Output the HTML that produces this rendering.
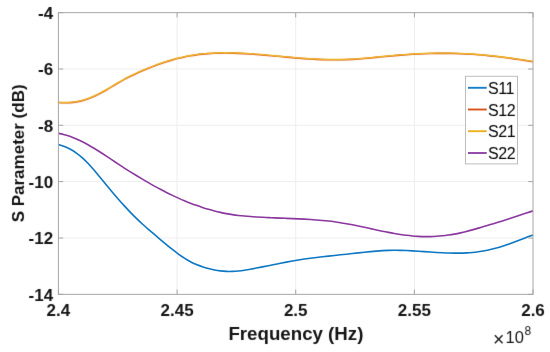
<!DOCTYPE html>
<html><head><meta charset="utf-8"><style>
html,body{margin:0;padding:0;background:#fff;}
body{width:550px;height:352px;overflow:hidden;}
svg{display:block;}
text{font-family:"Liberation Sans",Arial,sans-serif;}
</style></head><body>
<div id="w"><svg width="550" height="352" viewBox="0 0 550 352">
<defs><filter id="b" x="0" y="0" width="550" height="352" filterUnits="userSpaceOnUse" color-interpolation-filters="sRGB"><feConvolveMatrix order="3" kernelMatrix="0 1 0 1 8 1 0 1 0" divisor="12" edgeMode="duplicate"/></filter><filter id="b2" x="0" y="0" width="550" height="352" filterUnits="userSpaceOnUse" color-interpolation-filters="sRGB"><feConvolveMatrix order="3" kernelMatrix="0 1 0 1 8 1 0 1 0" divisor="12" edgeMode="none"/></filter></defs>
<rect width="550" height="352" fill="#fff"/>
<g stroke="#eeeeee" stroke-width="1" fill="none"><line x1="177.1" y1="12.7" x2="177.1" y2="294.3"/><line x1="295.7" y1="12.7" x2="295.7" y2="294.3"/><line x1="414.4" y1="12.7" x2="414.4" y2="294.3"/><line x1="58.4" y1="69.0" x2="533.0" y2="69.0"/><line x1="58.4" y1="125.3" x2="533.0" y2="125.3"/><line x1="58.4" y1="181.6" x2="533.0" y2="181.6"/><line x1="58.4" y1="238.0" x2="533.0" y2="238.0"/></g>
<g fill="none" stroke-width="1.6" stroke-linejoin="round" stroke-linecap="butt">
<path stroke="#0d77c4" d="M58.40,144.47 C60.40,145.01 62.40,145.67 64.40,146.47 C66.40,147.27 68.40,148.21 70.40,149.30 C72.40,150.39 74.40,151.63 76.40,153.05 C78.40,154.46 80.40,156.05 82.40,157.82 C84.40,159.60 86.40,161.57 88.40,163.72 C90.40,165.87 92.40,168.17 94.40,170.54 C96.40,172.92 98.40,175.36 100.40,177.79 C102.40,180.21 104.40,182.64 106.40,185.04 C108.40,187.45 110.40,189.84 112.40,192.20 C114.40,194.56 116.40,196.89 118.40,199.18 C120.40,201.47 122.40,203.72 124.40,205.91 C126.40,208.11 128.40,210.25 130.40,212.32 C132.40,214.40 134.40,216.41 136.40,218.35 C138.40,220.28 140.40,222.15 142.40,223.97 C144.40,225.78 146.40,227.55 148.40,229.29 C150.40,231.03 152.40,232.74 154.40,234.44 C156.40,236.14 158.40,237.84 160.40,239.53 C162.40,241.23 164.40,242.92 166.40,244.58 C168.40,246.25 170.40,247.88 172.40,249.47 C174.40,251.05 176.40,252.59 178.40,254.05 C180.40,255.52 182.40,256.91 184.40,258.20 C186.40,259.50 188.40,260.69 190.40,261.76 C192.40,262.83 194.40,263.76 196.40,264.59 C198.40,265.41 200.40,266.13 202.40,266.78 C204.40,267.42 206.40,268.00 208.40,268.53 C210.40,269.05 212.40,269.52 214.40,269.92 C216.40,270.31 218.40,270.64 220.40,270.89 C222.40,271.14 224.40,271.32 226.40,271.41 C228.40,271.50 230.40,271.49 232.40,271.42 C234.40,271.34 236.40,271.19 238.40,270.98 C240.40,270.78 242.40,270.51 244.40,270.21 C246.40,269.91 248.40,269.57 250.40,269.21 C252.40,268.84 254.40,268.46 256.40,268.07 C258.40,267.68 260.40,267.29 262.40,266.89 C264.40,266.49 266.40,266.09 268.40,265.68 C270.40,265.28 272.40,264.88 274.40,264.48 C276.40,264.07 278.40,263.68 280.40,263.28 C282.40,262.89 284.40,262.50 286.40,262.13 C288.40,261.75 290.40,261.38 292.40,261.03 C294.40,260.67 296.40,260.33 298.40,260.00 C300.40,259.67 302.40,259.36 304.40,259.07 C306.40,258.77 308.40,258.49 310.40,258.22 C312.40,257.95 314.40,257.70 316.40,257.45 C318.40,257.21 320.40,256.97 322.40,256.74 C324.40,256.52 326.40,256.30 328.40,256.08 C330.40,255.86 332.40,255.65 334.40,255.44 C336.40,255.23 338.40,255.02 340.40,254.82 C342.40,254.61 344.40,254.40 346.40,254.19 C348.40,253.98 350.40,253.76 352.40,253.54 C354.40,253.32 356.40,253.10 358.40,252.88 C360.40,252.66 362.40,252.44 364.40,252.23 C366.40,252.02 368.40,251.81 370.40,251.62 C372.40,251.43 374.40,251.25 376.40,251.09 C378.40,250.93 380.40,250.79 382.40,250.67 C384.40,250.55 386.40,250.45 388.40,250.39 C390.40,250.32 392.40,250.28 394.40,250.28 C396.40,250.27 398.40,250.29 400.40,250.34 C402.40,250.38 404.40,250.45 406.40,250.54 C408.40,250.62 410.40,250.73 412.40,250.84 C414.40,250.96 416.40,251.08 418.40,251.22 C420.40,251.35 422.40,251.49 424.40,251.64 C426.40,251.78 428.40,251.92 430.40,252.06 C432.40,252.20 434.40,252.33 436.40,252.46 C438.40,252.58 440.40,252.70 442.40,252.80 C444.40,252.89 446.40,252.98 448.40,253.04 C450.40,253.10 452.40,253.15 454.40,253.16 C456.40,253.18 458.40,253.16 460.40,253.12 C462.40,253.08 464.40,253.00 466.40,252.89 C468.40,252.78 470.40,252.63 472.40,252.44 C474.40,252.25 476.40,252.01 478.40,251.74 C480.40,251.46 482.40,251.14 484.40,250.78 C486.40,250.41 488.40,250.00 490.40,249.54 C492.40,249.08 494.40,248.57 496.40,248.01 C498.40,247.45 500.40,246.85 502.40,246.20 C504.40,245.56 506.40,244.88 508.40,244.17 C510.40,243.46 512.40,242.72 514.40,241.97 C516.40,241.22 518.40,240.46 520.40,239.69 C522.40,238.92 524.40,238.15 526.40,237.38 C528.60,236.54 530.80,235.70 533.00,234.89"/>
<g filter="url(#b2)"><path stroke="#d95319" stroke-width="1.6" d="M58.40,102.55 C60.40,102.71 62.40,102.80 64.40,102.82 C66.40,102.83 68.40,102.77 70.40,102.62 C72.40,102.48 74.40,102.24 76.40,101.91 C78.40,101.58 80.40,101.15 82.40,100.62 C84.40,100.09 86.40,99.45 88.40,98.72 C90.40,97.99 92.40,97.16 94.40,96.25 C96.40,95.34 98.40,94.36 100.40,93.30 C102.40,92.24 104.40,91.11 106.40,89.94 C108.40,88.78 110.40,87.58 112.40,86.37 C114.40,85.17 116.40,83.96 118.40,82.78 C120.40,81.60 122.40,80.46 124.40,79.37 C126.40,78.29 128.40,77.26 130.40,76.27 C132.40,75.28 134.40,74.34 136.40,73.43 C138.40,72.52 140.40,71.63 142.40,70.78 C144.40,69.92 146.40,69.08 148.40,68.27 C150.40,67.46 152.40,66.67 154.40,65.91 C156.40,65.15 158.40,64.42 160.40,63.72 C162.40,63.01 164.40,62.34 166.40,61.70 C168.40,61.06 170.40,60.46 172.40,59.88 C174.40,59.31 176.40,58.78 178.40,58.28 C180.40,57.78 182.40,57.32 184.40,56.91 C186.40,56.49 188.40,56.11 190.40,55.77 C192.40,55.43 194.40,55.12 196.40,54.85 C198.40,54.58 200.40,54.35 202.40,54.14 C204.40,53.94 206.40,53.77 208.40,53.62 C210.40,53.48 212.40,53.37 214.40,53.28 C216.40,53.19 218.40,53.13 220.40,53.09 C222.40,53.05 224.40,53.04 226.40,53.05 C228.40,53.06 230.40,53.09 232.40,53.13 C234.40,53.18 236.40,53.25 238.40,53.33 C240.40,53.41 242.40,53.51 244.40,53.62 C246.40,53.73 248.40,53.86 250.40,53.99 C252.40,54.13 254.40,54.27 256.40,54.43 C258.40,54.59 260.40,54.75 262.40,54.92 C264.40,55.09 266.40,55.27 268.40,55.45 C270.40,55.63 272.40,55.82 274.40,56.01 C276.40,56.19 278.40,56.38 280.40,56.57 C282.40,56.76 284.40,56.95 286.40,57.13 C288.40,57.31 290.40,57.49 292.40,57.67 C294.40,57.85 296.40,58.02 298.40,58.18 C300.40,58.34 302.40,58.50 304.40,58.64 C306.40,58.79 308.40,58.92 310.40,59.04 C312.40,59.16 314.40,59.27 316.40,59.37 C318.40,59.46 320.40,59.54 322.40,59.61 C324.40,59.67 326.40,59.72 328.40,59.76 C330.40,59.79 332.40,59.81 334.40,59.81 C336.40,59.81 338.40,59.80 340.40,59.77 C342.40,59.73 344.40,59.69 346.40,59.62 C348.40,59.55 350.40,59.46 352.40,59.36 C354.40,59.25 356.40,59.13 358.40,58.98 C360.40,58.84 362.40,58.68 364.40,58.51 C366.40,58.34 368.40,58.16 370.40,57.97 C372.40,57.78 374.40,57.58 376.40,57.38 C378.40,57.18 380.40,56.97 382.40,56.77 C384.40,56.57 386.40,56.37 388.40,56.18 C390.40,55.98 392.40,55.80 394.40,55.62 C396.40,55.45 398.40,55.28 400.40,55.12 C402.40,54.96 404.40,54.82 406.40,54.68 C408.40,54.54 410.40,54.41 412.40,54.30 C414.40,54.18 416.40,54.07 418.40,53.97 C420.40,53.88 422.40,53.79 424.40,53.72 C426.40,53.64 428.40,53.58 430.40,53.53 C432.40,53.48 434.40,53.43 436.40,53.41 C438.40,53.38 440.40,53.36 442.40,53.36 C444.40,53.35 446.40,53.36 448.40,53.39 C450.40,53.41 452.40,53.44 454.40,53.49 C456.40,53.54 458.40,53.60 460.40,53.68 C462.40,53.76 464.40,53.85 466.40,53.96 C468.40,54.07 470.40,54.19 472.40,54.32 C474.40,54.46 476.40,54.61 478.40,54.77 C480.40,54.93 482.40,55.10 484.40,55.29 C486.40,55.48 488.40,55.67 490.40,55.88 C492.40,56.09 494.40,56.31 496.40,56.55 C498.40,56.78 500.40,57.02 502.40,57.27 C504.40,57.52 506.40,57.78 508.40,58.05 C510.40,58.32 512.40,58.60 514.40,58.88 C516.40,59.17 518.40,59.46 520.40,59.76 C522.40,60.06 524.40,60.37 526.40,60.68 C528.60,61.03 530.80,61.38 533.00,61.74"/>
<path stroke="#edb120" stroke-width="1.35" d="M58.40,102.25 C60.40,102.41 62.40,102.50 64.40,102.52 C66.40,102.53 68.40,102.47 70.40,102.32 C72.40,102.18 74.40,101.94 76.40,101.61 C78.40,101.28 80.40,100.85 82.40,100.32 C84.40,99.79 86.40,99.15 88.40,98.42 C90.40,97.69 92.40,96.86 94.40,95.95 C96.40,95.04 98.40,94.06 100.40,93.00 C102.40,91.94 104.40,90.81 106.40,89.64 C108.40,88.48 110.40,87.28 112.40,86.07 C114.40,84.87 116.40,83.66 118.40,82.48 C120.40,81.30 122.40,80.16 124.40,79.07 C126.40,77.99 128.40,76.96 130.40,75.97 C132.40,74.98 134.40,74.04 136.40,73.13 C138.40,72.22 140.40,71.33 142.40,70.48 C144.40,69.62 146.40,68.78 148.40,67.97 C150.40,67.16 152.40,66.37 154.40,65.61 C156.40,64.85 158.40,64.12 160.40,63.42 C162.40,62.71 164.40,62.04 166.40,61.40 C168.40,60.76 170.40,60.16 172.40,59.58 C174.40,59.01 176.40,58.48 178.40,57.98 C180.40,57.48 182.40,57.02 184.40,56.61 C186.40,56.19 188.40,55.81 190.40,55.47 C192.40,55.13 194.40,54.82 196.40,54.55 C198.40,54.28 200.40,54.05 202.40,53.84 C204.40,53.64 206.40,53.47 208.40,53.32 C210.40,53.18 212.40,53.07 214.40,52.98 C216.40,52.89 218.40,52.83 220.40,52.79 C222.40,52.75 224.40,52.74 226.40,52.75 C228.40,52.76 230.40,52.79 232.40,52.83 C234.40,52.88 236.40,52.95 238.40,53.03 C240.40,53.11 242.40,53.21 244.40,53.32 C246.40,53.43 248.40,53.56 250.40,53.69 C252.40,53.83 254.40,53.97 256.40,54.13 C258.40,54.29 260.40,54.45 262.40,54.62 C264.40,54.79 266.40,54.97 268.40,55.15 C270.40,55.33 272.40,55.52 274.40,55.71 C276.40,55.89 278.40,56.08 280.40,56.27 C282.40,56.46 284.40,56.65 286.40,56.83 C288.40,57.01 290.40,57.19 292.40,57.37 C294.40,57.55 296.40,57.72 298.40,57.88 C300.40,58.04 302.40,58.20 304.40,58.34 C306.40,58.49 308.40,58.62 310.40,58.74 C312.40,58.86 314.40,58.97 316.40,59.07 C318.40,59.16 320.40,59.24 322.40,59.31 C324.40,59.37 326.40,59.42 328.40,59.46 C330.40,59.49 332.40,59.51 334.40,59.51 C336.40,59.51 338.40,59.50 340.40,59.47 C342.40,59.43 344.40,59.39 346.40,59.32 C348.40,59.25 350.40,59.16 352.40,59.06 C354.40,58.95 356.40,58.83 358.40,58.68 C360.40,58.54 362.40,58.38 364.40,58.21 C366.40,58.04 368.40,57.86 370.40,57.67 C372.40,57.48 374.40,57.28 376.40,57.08 C378.40,56.88 380.40,56.67 382.40,56.47 C384.40,56.27 386.40,56.07 388.40,55.88 C390.40,55.68 392.40,55.50 394.40,55.32 C396.40,55.15 398.40,54.98 400.40,54.82 C402.40,54.66 404.40,54.52 406.40,54.38 C408.40,54.24 410.40,54.11 412.40,54.00 C414.40,53.88 416.40,53.77 418.40,53.67 C420.40,53.58 422.40,53.49 424.40,53.42 C426.40,53.34 428.40,53.28 430.40,53.23 C432.40,53.18 434.40,53.13 436.40,53.11 C438.40,53.08 440.40,53.06 442.40,53.06 C444.40,53.05 446.40,53.06 448.40,53.09 C450.40,53.11 452.40,53.14 454.40,53.19 C456.40,53.24 458.40,53.30 460.40,53.38 C462.40,53.46 464.40,53.55 466.40,53.66 C468.40,53.77 470.40,53.89 472.40,54.02 C474.40,54.16 476.40,54.31 478.40,54.47 C480.40,54.63 482.40,54.80 484.40,54.99 C486.40,55.18 488.40,55.37 490.40,55.58 C492.40,55.79 494.40,56.01 496.40,56.25 C498.40,56.48 500.40,56.72 502.40,56.97 C504.40,57.22 506.40,57.48 508.40,57.75 C510.40,58.02 512.40,58.30 514.40,58.58 C516.40,58.87 518.40,59.16 520.40,59.46 C522.40,59.76 524.40,60.07 526.40,60.38 C528.60,60.73 530.80,61.08 533.00,61.44"/></g>
<path stroke="#8a379e" d="M58.40,133.37 C60.40,133.69 62.40,134.12 64.40,134.65 C66.40,135.18 68.40,135.81 70.40,136.52 C72.40,137.24 74.40,138.04 76.40,138.92 C78.40,139.80 80.40,140.75 82.40,141.76 C84.40,142.78 86.40,143.86 88.40,144.99 C90.40,146.12 92.40,147.30 94.40,148.51 C96.40,149.73 98.40,150.99 100.40,152.27 C102.40,153.55 104.40,154.86 106.40,156.18 C108.40,157.51 110.40,158.84 112.40,160.18 C114.40,161.51 116.40,162.85 118.40,164.17 C120.40,165.49 122.40,166.80 124.40,168.08 C126.40,169.36 128.40,170.61 130.40,171.85 C132.40,173.08 134.40,174.30 136.40,175.51 C138.40,176.73 140.40,177.94 142.40,179.13 C144.40,180.33 146.40,181.52 148.40,182.68 C150.40,183.84 152.40,184.97 154.40,186.08 C156.40,187.19 158.40,188.27 160.40,189.33 C162.40,190.39 164.40,191.42 166.40,192.43 C168.40,193.43 170.40,194.41 172.40,195.36 C174.40,196.31 176.40,197.24 178.40,198.13 C180.40,199.02 182.40,199.89 184.40,200.72 C186.40,201.56 188.40,202.36 190.40,203.14 C192.40,203.91 194.40,204.66 196.40,205.37 C198.40,206.08 200.40,206.76 202.40,207.41 C204.40,208.06 206.40,208.67 208.40,209.26 C210.40,209.84 212.40,210.39 214.40,210.91 C216.40,211.42 218.40,211.90 220.40,212.35 C222.40,212.80 224.40,213.21 226.40,213.59 C228.40,213.97 230.40,214.31 232.40,214.61 C234.40,214.92 236.40,215.19 238.40,215.43 C240.40,215.67 242.40,215.88 244.40,216.07 C246.40,216.25 248.40,216.42 250.40,216.57 C252.40,216.72 254.40,216.85 256.40,216.97 C258.40,217.09 260.40,217.21 262.40,217.31 C264.40,217.42 266.40,217.51 268.40,217.61 C270.40,217.70 272.40,217.78 274.40,217.87 C276.40,217.95 278.40,218.03 280.40,218.11 C282.40,218.18 284.40,218.26 286.40,218.34 C288.40,218.42 290.40,218.50 292.40,218.59 C294.40,218.67 296.40,218.76 298.40,218.86 C300.40,218.95 302.40,219.05 304.40,219.16 C306.40,219.27 308.40,219.39 310.40,219.52 C312.40,219.65 314.40,219.79 316.40,219.95 C318.40,220.11 320.40,220.28 322.40,220.46 C324.40,220.65 326.40,220.85 328.40,221.08 C330.40,221.30 332.40,221.54 334.40,221.81 C336.40,222.07 338.40,222.36 340.40,222.67 C342.40,222.98 344.40,223.32 346.40,223.67 C348.40,224.03 350.40,224.41 352.40,224.80 C354.40,225.19 356.40,225.60 358.40,226.02 C360.40,226.44 362.40,226.87 364.40,227.30 C366.40,227.73 368.40,228.17 370.40,228.61 C372.40,229.04 374.40,229.48 376.40,229.91 C378.40,230.34 380.40,230.76 382.40,231.17 C384.40,231.59 386.40,231.99 388.40,232.37 C390.40,232.76 392.40,233.13 394.40,233.48 C396.40,233.83 398.40,234.15 400.40,234.46 C402.40,234.76 404.40,235.04 406.40,235.29 C408.40,235.54 410.40,235.76 412.40,235.94 C414.40,236.13 416.40,236.28 418.40,236.40 C420.40,236.51 422.40,236.59 424.40,236.62 C426.40,236.65 428.40,236.64 430.40,236.59 C432.40,236.54 434.40,236.45 436.40,236.32 C438.40,236.19 440.40,236.02 442.40,235.81 C444.40,235.60 446.40,235.35 448.40,235.07 C450.40,234.78 452.40,234.46 454.40,234.09 C456.40,233.73 458.40,233.33 460.40,232.89 C462.40,232.46 464.40,231.99 466.40,231.48 C468.40,230.97 470.40,230.43 472.40,229.87 C474.40,229.31 476.40,228.73 478.40,228.14 C480.40,227.55 482.40,226.94 484.40,226.34 C486.40,225.74 488.40,225.13 490.40,224.54 C492.40,223.95 494.40,223.37 496.40,222.78 C498.40,222.19 500.40,221.59 502.40,220.96 C504.40,220.34 506.40,219.69 508.40,219.02 C510.40,218.36 512.40,217.68 514.40,217.00 C516.40,216.32 518.40,215.64 520.40,214.96 C522.40,214.28 524.40,213.61 526.40,212.96 C528.60,212.24 530.80,211.53 533.00,210.86"/>
</g>
<rect x="58.4" y="12.65" width="474.6" height="281.7" fill="none" stroke="#a6a6a6" stroke-width="1"/>
<g stroke="#a6a6a6" stroke-width="1"><line x1="58.4" y1="294.3" x2="58.4" y2="289.5"/><line x1="58.4" y1="12.7" x2="58.4" y2="17.4"/><line x1="177.1" y1="294.3" x2="177.1" y2="289.5"/><line x1="177.1" y1="12.7" x2="177.1" y2="17.4"/><line x1="295.7" y1="294.3" x2="295.7" y2="289.5"/><line x1="295.7" y1="12.7" x2="295.7" y2="17.4"/><line x1="414.4" y1="294.3" x2="414.4" y2="289.5"/><line x1="414.4" y1="12.7" x2="414.4" y2="17.4"/><line x1="533.0" y1="294.3" x2="533.0" y2="289.5"/><line x1="533.0" y1="12.7" x2="533.0" y2="17.4"/><line x1="58.4" y1="12.7" x2="63.2" y2="12.7"/><line x1="533.0" y1="12.7" x2="528.2" y2="12.7"/><line x1="58.4" y1="69.0" x2="63.2" y2="69.0"/><line x1="533.0" y1="69.0" x2="528.2" y2="69.0"/><line x1="58.4" y1="125.3" x2="63.2" y2="125.3"/><line x1="533.0" y1="125.3" x2="528.2" y2="125.3"/><line x1="58.4" y1="181.6" x2="63.2" y2="181.6"/><line x1="533.0" y1="181.6" x2="528.2" y2="181.6"/><line x1="58.4" y1="238.0" x2="63.2" y2="238.0"/><line x1="533.0" y1="238.0" x2="528.2" y2="238.0"/><line x1="58.4" y1="294.3" x2="63.2" y2="294.3"/><line x1="533.0" y1="294.3" x2="528.2" y2="294.3"/></g>
<rect x="465.5" y="76.3" width="52" height="87.6" fill="#fff" stroke="#bdbdbd" stroke-width="1"/>
<g stroke-width="1.9">
<line x1="468" y1="87.8" x2="486.7" y2="87.8" stroke="#1a7fc9"/>
<line x1="468" y1="109.5" x2="486.7" y2="109.5" stroke="#d95319"/>
<line x1="468" y1="131.2" x2="486.7" y2="131.2" stroke="#edb120"/>
<line x1="468" y1="153" x2="486.7" y2="153" stroke="#9043a6"/>
</g>
<g filter="url(#b)">
<g font-size="17.0" font-weight="bold" fill="#141414"><text x="58.4" y="316.1" text-anchor="middle">2.4</text><text x="177.1" y="316.1" text-anchor="middle">2.45</text><text x="295.7" y="316.1" text-anchor="middle">2.5</text><text x="414.4" y="316.1" text-anchor="middle">2.55</text><text x="533.0" y="316.1" text-anchor="middle">2.6</text><text x="53.1" y="19.10" text-anchor="end">-4</text><text x="53.1" y="75.43" text-anchor="end">-6</text><text x="53.1" y="131.76" text-anchor="end">-8</text><text x="53.1" y="188.09" text-anchor="end">-10</text><text x="53.1" y="244.42" text-anchor="end">-12</text><text x="53.1" y="300.75" text-anchor="end">-14</text></g>
<text x="295.9" y="339.9" text-anchor="middle" font-size="18.7" font-weight="bold" fill="#141414">Frequency (Hz)</text>
<text transform="translate(24.3,153.4) rotate(-90)" text-anchor="middle" font-size="17" font-weight="bold" fill="#141414">S Parameter (dB)</text>
<g font-size="16.5" fill="#141414">
<text x="493.1" y="345.8" font-size="19.5" font-family="'DejaVu Math TeX Gyre','Liberation Sans',sans-serif">&#215;</text>
<text x="505.6" y="342.8">10</text>
<text x="524.6" y="334.6" font-size="12">8</text>
</g>
<g font-size="16" fill="#000" letter-spacing="-0.4">
<text x="488" y="94">S11</text>
<text x="488" y="115.7">S12</text>
<text x="488" y="137.4">S21</text>
<text x="488" y="159.1">S22</text>
</g>
</g>
</svg></div>
</body></html>
